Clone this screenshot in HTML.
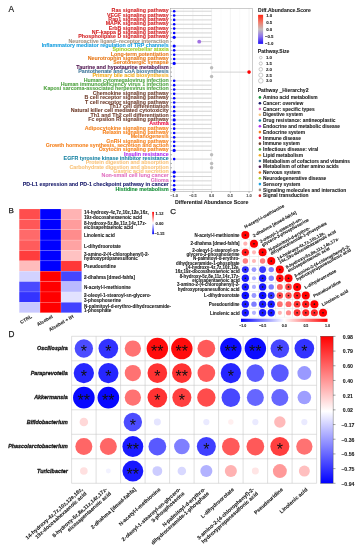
<!DOCTYPE html>
<html><head><meta charset="utf-8"><title>Figure</title>
<style>html,body{margin:0;padding:0;background:#fff;}svg{display:block;}text{font-family:"Liberation Sans",Arial,sans-serif;}</style>
</head><body>
<svg width="360" height="550" viewBox="0 0 360 550">
<rect width="360" height="550" fill="#fff"/>
<text x="8.60" y="11.80" font-size="8.4" fill="#222" text-anchor="start" font-weight="normal" font-style="normal" stroke="#222" stroke-width="0.2">A</text>
<line x1="183.51" y1="8.3" x2="183.51" y2="191.7" stroke="#f4f4f4" stroke-width="0.4"/>
<line x1="202.24" y1="8.3" x2="202.24" y2="191.7" stroke="#f4f4f4" stroke-width="0.4"/>
<line x1="220.96" y1="8.3" x2="220.96" y2="191.7" stroke="#f4f4f4" stroke-width="0.4"/>
<line x1="239.69" y1="8.3" x2="239.69" y2="191.7" stroke="#f4f4f4" stroke-width="0.4"/>
<line x1="174.15" y1="8.3" x2="174.15" y2="191.7" stroke="#e6e6e6" stroke-width="0.5"/>
<line x1="192.88" y1="8.3" x2="192.88" y2="191.7" stroke="#e6e6e6" stroke-width="0.5"/>
<line x1="211.60" y1="8.3" x2="211.60" y2="191.7" stroke="#e6e6e6" stroke-width="0.5"/>
<line x1="230.32" y1="8.3" x2="230.32" y2="191.7" stroke="#e6e6e6" stroke-width="0.5"/>
<line x1="249.05" y1="8.3" x2="249.05" y2="191.7" stroke="#e6e6e6" stroke-width="0.5"/>
<line x1="174.15" y1="11.20" x2="211.60" y2="11.20" stroke="#cecece" stroke-width="0.85"/>
<line x1="174.15" y1="15.55" x2="211.60" y2="15.55" stroke="#cecece" stroke-width="0.85"/>
<line x1="174.15" y1="19.90" x2="211.60" y2="19.90" stroke="#cecece" stroke-width="0.85"/>
<line x1="174.15" y1="24.25" x2="211.60" y2="24.25" stroke="#cecece" stroke-width="0.85"/>
<line x1="174.15" y1="28.60" x2="211.60" y2="28.60" stroke="#cecece" stroke-width="0.85"/>
<line x1="174.15" y1="32.95" x2="211.60" y2="32.95" stroke="#cecece" stroke-width="0.85"/>
<line x1="174.15" y1="37.30" x2="211.60" y2="37.30" stroke="#cecece" stroke-width="0.85"/>
<line x1="199.24" y1="41.65" x2="211.60" y2="41.65" stroke="#cecece" stroke-width="0.85"/>
<line x1="174.15" y1="46.00" x2="211.60" y2="46.00" stroke="#cecece" stroke-width="0.85"/>
<line x1="174.15" y1="50.35" x2="211.60" y2="50.35" stroke="#cecece" stroke-width="0.85"/>
<line x1="174.15" y1="54.70" x2="211.60" y2="54.70" stroke="#cecece" stroke-width="0.85"/>
<line x1="174.15" y1="59.05" x2="211.60" y2="59.05" stroke="#cecece" stroke-width="0.85"/>
<line x1="174.15" y1="63.40" x2="211.60" y2="63.40" stroke="#cecece" stroke-width="0.85"/>
<line x1="211.60" y1="67.75" x2="211.60" y2="67.75" stroke="#cecece" stroke-width="0.85"/>
<line x1="249.05" y1="72.10" x2="211.60" y2="72.10" stroke="#cecece" stroke-width="0.85"/>
<line x1="211.60" y1="76.45" x2="211.60" y2="76.45" stroke="#cecece" stroke-width="0.85"/>
<line x1="174.15" y1="80.80" x2="211.60" y2="80.80" stroke="#cecece" stroke-width="0.85"/>
<line x1="174.15" y1="85.15" x2="211.60" y2="85.15" stroke="#cecece" stroke-width="0.85"/>
<line x1="174.15" y1="89.50" x2="211.60" y2="89.50" stroke="#cecece" stroke-width="0.85"/>
<line x1="174.15" y1="93.85" x2="211.60" y2="93.85" stroke="#cecece" stroke-width="0.85"/>
<line x1="174.15" y1="98.20" x2="211.60" y2="98.20" stroke="#cecece" stroke-width="0.85"/>
<line x1="174.15" y1="102.55" x2="211.60" y2="102.55" stroke="#cecece" stroke-width="0.85"/>
<line x1="174.15" y1="106.90" x2="211.60" y2="106.90" stroke="#cecece" stroke-width="0.85"/>
<line x1="174.15" y1="111.25" x2="211.60" y2="111.25" stroke="#cecece" stroke-width="0.85"/>
<line x1="174.15" y1="115.60" x2="211.60" y2="115.60" stroke="#cecece" stroke-width="0.85"/>
<line x1="174.15" y1="119.95" x2="211.60" y2="119.95" stroke="#cecece" stroke-width="0.85"/>
<line x1="174.15" y1="124.30" x2="211.60" y2="124.30" stroke="#cecece" stroke-width="0.85"/>
<line x1="174.15" y1="128.65" x2="211.60" y2="128.65" stroke="#cecece" stroke-width="0.85"/>
<line x1="174.15" y1="133.00" x2="211.60" y2="133.00" stroke="#cecece" stroke-width="0.85"/>
<line x1="174.15" y1="137.35" x2="211.60" y2="137.35" stroke="#cecece" stroke-width="0.85"/>
<line x1="174.15" y1="141.70" x2="211.60" y2="141.70" stroke="#cecece" stroke-width="0.85"/>
<line x1="174.15" y1="146.05" x2="211.60" y2="146.05" stroke="#cecece" stroke-width="0.85"/>
<line x1="174.15" y1="150.40" x2="211.60" y2="150.40" stroke="#cecece" stroke-width="0.85"/>
<line x1="211.60" y1="154.75" x2="211.60" y2="154.75" stroke="#cecece" stroke-width="0.85"/>
<line x1="174.15" y1="159.10" x2="211.60" y2="159.10" stroke="#cecece" stroke-width="0.85"/>
<line x1="211.60" y1="163.45" x2="211.60" y2="163.45" stroke="#cecece" stroke-width="0.85"/>
<line x1="211.60" y1="167.80" x2="211.60" y2="167.80" stroke="#cecece" stroke-width="0.85"/>
<line x1="174.15" y1="172.15" x2="211.60" y2="172.15" stroke="#cecece" stroke-width="0.85"/>
<line x1="174.15" y1="176.50" x2="211.60" y2="176.50" stroke="#cecece" stroke-width="0.85"/>
<line x1="174.15" y1="180.85" x2="211.60" y2="180.85" stroke="#cecece" stroke-width="0.85"/>
<line x1="174.15" y1="185.20" x2="211.60" y2="185.20" stroke="#cecece" stroke-width="0.85"/>
<line x1="174.15" y1="189.55" x2="211.60" y2="189.55" stroke="#cecece" stroke-width="0.85"/>
<rect x="170.4" y="8.3" width="82.20" height="183.40" fill="none" stroke="#9a9a9a" stroke-width="0.5"/>
<circle cx="174.15" cy="11.20" r="1.32" fill="#0000ff"/>
<line x1="170.7" y1="11.20" x2="171.9" y2="11.20" stroke="#555" stroke-width="0.55"/>
<text x="168.70" y="12.15" font-size="5.3" fill="#d42426" stroke="#d42426" stroke-width="0.08" text-anchor="end" font-weight="bold" font-style="normal" >Ras signaling pathway</text>
<circle cx="174.15" cy="15.55" r="1.32" fill="#0000ff"/>
<line x1="170.7" y1="15.55" x2="171.9" y2="15.55" stroke="#555" stroke-width="0.55"/>
<text x="168.70" y="16.50" font-size="5.3" fill="#d42426" stroke="#d42426" stroke-width="0.08" text-anchor="end" font-weight="bold" font-style="normal" >VEGF signaling pathway</text>
<circle cx="174.15" cy="19.90" r="1.32" fill="#0000ff"/>
<line x1="170.7" y1="19.90" x2="171.9" y2="19.90" stroke="#555" stroke-width="0.55"/>
<text x="168.70" y="20.85" font-size="5.3" fill="#d42426" stroke="#d42426" stroke-width="0.08" text-anchor="end" font-weight="bold" font-style="normal" >Rap1 signaling pathway</text>
<circle cx="174.15" cy="24.25" r="1.32" fill="#0000ff"/>
<line x1="170.7" y1="24.25" x2="171.9" y2="24.25" stroke="#555" stroke-width="0.55"/>
<text x="168.70" y="25.20" font-size="5.3" fill="#d42426" stroke="#d42426" stroke-width="0.08" text-anchor="end" font-weight="bold" font-style="normal" >MAPK signaling pathway</text>
<circle cx="174.15" cy="28.60" r="1.32" fill="#0000ff"/>
<line x1="170.7" y1="28.60" x2="171.9" y2="28.60" stroke="#555" stroke-width="0.55"/>
<text x="168.70" y="29.55" font-size="5.3" fill="#d42426" stroke="#d42426" stroke-width="0.08" text-anchor="end" font-weight="bold" font-style="normal" >ErbB signaling pathway</text>
<circle cx="174.15" cy="32.95" r="1.32" fill="#0000ff"/>
<line x1="170.7" y1="32.95" x2="171.9" y2="32.95" stroke="#555" stroke-width="0.55"/>
<text x="168.70" y="33.90" font-size="5.3" fill="#d42426" stroke="#d42426" stroke-width="0.08" text-anchor="end" font-weight="bold" font-style="normal" >NF-kappa B signaling pathway</text>
<circle cx="174.15" cy="37.30" r="1.6" fill="#0000ff"/>
<line x1="170.7" y1="37.30" x2="171.9" y2="37.30" stroke="#555" stroke-width="0.55"/>
<text x="168.70" y="38.25" font-size="5.3" fill="#d42426" stroke="#d42426" stroke-width="0.08" text-anchor="end" font-weight="bold" font-style="normal" >Phospholipase D signaling pathway</text>
<circle cx="199.24" cy="41.65" r="1.95" fill="#a272e2"/>
<line x1="170.7" y1="41.65" x2="171.9" y2="41.65" stroke="#555" stroke-width="0.55"/>
<text x="168.70" y="42.60" font-size="5.3" fill="#a39484" stroke="#a39484" stroke-width="0.08" text-anchor="end" font-weight="bold" font-style="normal" >Neuroactive ligand−receptor interaction</text>
<circle cx="174.15" cy="46.00" r="1.6" fill="#0000ff"/>
<line x1="170.7" y1="46.00" x2="171.9" y2="46.00" stroke="#555" stroke-width="0.55"/>
<text x="168.70" y="46.95" font-size="5.3" fill="#1aa0e0" stroke="#1aa0e0" stroke-width="0.08" text-anchor="end" font-weight="bold" font-style="normal" >Inflammatory mediator regulation of TRP channels</text>
<circle cx="174.15" cy="50.35" r="1.32" fill="#0000ff"/>
<line x1="170.7" y1="50.35" x2="171.9" y2="50.35" stroke="#555" stroke-width="0.55"/>
<text x="168.70" y="51.30" font-size="5.3" fill="#a2cf2a" stroke="#a2cf2a" stroke-width="0.08" text-anchor="end" font-weight="bold" font-style="normal" >Spinocerebellar ataxia</text>
<circle cx="174.15" cy="54.70" r="1.32" fill="#0000ff"/>
<line x1="170.7" y1="54.70" x2="171.9" y2="54.70" stroke="#555" stroke-width="0.55"/>
<text x="168.70" y="55.65" font-size="5.3" fill="#e8791a" stroke="#e8791a" stroke-width="0.08" text-anchor="end" font-weight="bold" font-style="normal" >Long-term potentiation</text>
<circle cx="174.15" cy="59.05" r="1.32" fill="#0000ff"/>
<line x1="170.7" y1="59.05" x2="171.9" y2="59.05" stroke="#555" stroke-width="0.55"/>
<text x="168.70" y="60.00" font-size="5.3" fill="#e8791a" stroke="#e8791a" stroke-width="0.08" text-anchor="end" font-weight="bold" font-style="normal" >Neurotrophin signaling pathway</text>
<circle cx="174.15" cy="63.40" r="1.6" fill="#0000ff"/>
<line x1="170.7" y1="63.40" x2="171.9" y2="63.40" stroke="#555" stroke-width="0.55"/>
<text x="168.70" y="64.35" font-size="5.3" fill="#e8791a" stroke="#e8791a" stroke-width="0.08" text-anchor="end" font-weight="bold" font-style="normal" >Serotonergic synapse</text>
<circle cx="211.60" cy="67.75" r="1.7" fill="#bcbcbc"/>
<line x1="170.7" y1="67.75" x2="171.9" y2="67.75" stroke="#555" stroke-width="0.55"/>
<text x="168.70" y="68.70" font-size="5.3" fill="#4e124e" stroke="#4e124e" stroke-width="0.08" text-anchor="end" font-weight="bold" font-style="normal" >Taurine and hypotaurine metabolism</text>
<circle cx="249.05" cy="72.10" r="1.8" fill="#ff0000"/>
<line x1="170.7" y1="72.10" x2="171.9" y2="72.10" stroke="#555" stroke-width="0.55"/>
<text x="168.70" y="73.05" font-size="5.3" fill="#41789a" stroke="#41789a" stroke-width="0.08" text-anchor="end" font-weight="bold" font-style="normal" >Pantothenate and CoA biosynthesis</text>
<circle cx="211.60" cy="76.45" r="1.7" fill="#bcbcbc"/>
<line x1="170.7" y1="76.45" x2="171.9" y2="76.45" stroke="#555" stroke-width="0.55"/>
<text x="168.70" y="77.40" font-size="5.3" fill="#f3ae22" stroke="#f3ae22" stroke-width="0.08" text-anchor="end" font-weight="bold" font-style="normal" >Primary bile acid biosynthesis</text>
<circle cx="174.15" cy="80.80" r="1.32" fill="#0000ff"/>
<line x1="170.7" y1="80.80" x2="171.9" y2="80.80" stroke="#555" stroke-width="0.55"/>
<text x="168.70" y="81.75" font-size="5.3" fill="#52a443" stroke="#52a443" stroke-width="0.08" text-anchor="end" font-weight="bold" font-style="normal" >Human cytomegalovirus infection</text>
<circle cx="174.15" cy="85.15" r="1.32" fill="#0000ff"/>
<line x1="170.7" y1="85.15" x2="171.9" y2="85.15" stroke="#555" stroke-width="0.55"/>
<text x="168.70" y="86.10" font-size="5.3" fill="#52a443" stroke="#52a443" stroke-width="0.08" text-anchor="end" font-weight="bold" font-style="normal" >Human immunodeficiency virus 1 infection</text>
<circle cx="174.15" cy="89.50" r="1.32" fill="#0000ff"/>
<line x1="170.7" y1="89.50" x2="171.9" y2="89.50" stroke="#555" stroke-width="0.55"/>
<text x="168.70" y="90.45" font-size="5.3" fill="#52a443" stroke="#52a443" stroke-width="0.08" text-anchor="end" font-weight="bold" font-style="normal" >Kaposi sarcoma-associated herpesvirus infection</text>
<circle cx="174.15" cy="93.85" r="1.32" fill="#0000ff"/>
<line x1="170.7" y1="93.85" x2="171.9" y2="93.85" stroke="#555" stroke-width="0.55"/>
<text x="168.70" y="94.80" font-size="5.3" fill="#72402f" stroke="#72402f" stroke-width="0.08" text-anchor="end" font-weight="bold" font-style="normal" >Chemokine signaling pathway</text>
<circle cx="174.15" cy="98.20" r="1.32" fill="#0000ff"/>
<line x1="170.7" y1="98.20" x2="171.9" y2="98.20" stroke="#555" stroke-width="0.55"/>
<text x="168.70" y="99.15" font-size="5.3" fill="#72402f" stroke="#72402f" stroke-width="0.08" text-anchor="end" font-weight="bold" font-style="normal" >B cell receptor signaling pathway</text>
<circle cx="174.15" cy="102.55" r="1.32" fill="#0000ff"/>
<line x1="170.7" y1="102.55" x2="171.9" y2="102.55" stroke="#555" stroke-width="0.55"/>
<text x="168.70" y="103.50" font-size="5.3" fill="#72402f" stroke="#72402f" stroke-width="0.08" text-anchor="end" font-weight="bold" font-style="normal" >T cell receptor signaling pathway</text>
<circle cx="174.15" cy="106.90" r="1.32" fill="#0000ff"/>
<line x1="170.7" y1="106.90" x2="171.9" y2="106.90" stroke="#555" stroke-width="0.55"/>
<text x="168.70" y="107.85" font-size="5.3" fill="#72402f" stroke="#72402f" stroke-width="0.08" text-anchor="end" font-weight="bold" font-style="normal" >Th17 cell differentiation</text>
<circle cx="174.15" cy="111.25" r="1.32" fill="#0000ff"/>
<line x1="170.7" y1="111.25" x2="171.9" y2="111.25" stroke="#555" stroke-width="0.55"/>
<text x="168.70" y="112.20" font-size="5.3" fill="#72402f" stroke="#72402f" stroke-width="0.08" text-anchor="end" font-weight="bold" font-style="normal" >Natural killer cell mediated cytotoxicity</text>
<circle cx="174.15" cy="115.60" r="1.32" fill="#0000ff"/>
<line x1="170.7" y1="115.60" x2="171.9" y2="115.60" stroke="#555" stroke-width="0.55"/>
<text x="168.70" y="116.55" font-size="5.3" fill="#72402f" stroke="#72402f" stroke-width="0.08" text-anchor="end" font-weight="bold" font-style="normal" >Th1 and Th2 cell differentiation</text>
<circle cx="174.15" cy="119.95" r="1.6" fill="#0000ff"/>
<line x1="170.7" y1="119.95" x2="171.9" y2="119.95" stroke="#555" stroke-width="0.55"/>
<text x="168.70" y="120.90" font-size="5.3" fill="#72402f" stroke="#72402f" stroke-width="0.08" text-anchor="end" font-weight="bold" font-style="normal" >Fc epsilon RI signaling pathway</text>
<circle cx="174.15" cy="124.30" r="1.32" fill="#0000ff"/>
<line x1="170.7" y1="124.30" x2="171.9" y2="124.30" stroke="#555" stroke-width="0.55"/>
<text x="168.70" y="125.25" font-size="5.3" fill="#ec1044" stroke="#ec1044" stroke-width="0.08" text-anchor="end" font-weight="bold" font-style="normal" >Asthma</text>
<circle cx="174.15" cy="128.65" r="1.32" fill="#0000ff"/>
<line x1="170.7" y1="128.65" x2="171.9" y2="128.65" stroke="#555" stroke-width="0.55"/>
<text x="168.70" y="129.60" font-size="5.3" fill="#f5821e" stroke="#f5821e" stroke-width="0.08" text-anchor="end" font-weight="bold" font-style="normal" >Adipocytokine signaling pathway</text>
<circle cx="174.15" cy="133.00" r="1.32" fill="#0000ff"/>
<line x1="170.7" y1="133.00" x2="171.9" y2="133.00" stroke="#555" stroke-width="0.55"/>
<text x="168.70" y="133.95" font-size="5.3" fill="#f5821e" stroke="#f5821e" stroke-width="0.08" text-anchor="end" font-weight="bold" font-style="normal" >Relaxin signaling pathway</text>
<circle cx="174.15" cy="137.35" r="1.32" fill="#0000ff"/>
<line x1="170.7" y1="137.35" x2="171.9" y2="137.35" stroke="#555" stroke-width="0.55"/>
<text x="168.70" y="138.30" font-size="5.3" fill="#f5821e" stroke="#f5821e" stroke-width="0.08" text-anchor="end" font-weight="bold" font-style="normal" >Melanogenesis</text>
<circle cx="174.15" cy="141.70" r="1.32" fill="#0000ff"/>
<line x1="170.7" y1="141.70" x2="171.9" y2="141.70" stroke="#555" stroke-width="0.55"/>
<text x="168.70" y="142.65" font-size="5.3" fill="#f5821e" stroke="#f5821e" stroke-width="0.08" text-anchor="end" font-weight="bold" font-style="normal" >GnRH signaling pathway</text>
<circle cx="174.15" cy="146.05" r="1.32" fill="#0000ff"/>
<line x1="170.7" y1="146.05" x2="171.9" y2="146.05" stroke="#555" stroke-width="0.55"/>
<text x="168.70" y="147.00" font-size="5.3" fill="#f5821e" stroke="#f5821e" stroke-width="0.08" text-anchor="end" font-weight="bold" font-style="normal" >Growth hormone synthesis, secretion and action</text>
<circle cx="174.15" cy="150.40" r="1.6" fill="#0000ff"/>
<line x1="170.7" y1="150.40" x2="171.9" y2="150.40" stroke="#555" stroke-width="0.55"/>
<text x="168.70" y="151.35" font-size="5.3" fill="#f5821e" stroke="#f5821e" stroke-width="0.08" text-anchor="end" font-weight="bold" font-style="normal" >Oxytocin signaling pathway</text>
<circle cx="211.60" cy="154.75" r="1.7" fill="#bcbcbc"/>
<line x1="170.7" y1="154.75" x2="171.9" y2="154.75" stroke="#555" stroke-width="0.55"/>
<text x="168.70" y="155.70" font-size="5.3" fill="#ad2cf0" stroke="#ad2cf0" stroke-width="0.08" text-anchor="end" font-weight="bold" font-style="normal" >Insulin resistance</text>
<circle cx="174.15" cy="159.10" r="1.32" fill="#0000ff"/>
<line x1="170.7" y1="159.10" x2="171.9" y2="159.10" stroke="#555" stroke-width="0.55"/>
<text x="168.70" y="160.05" font-size="5.3" fill="#1b84a4" stroke="#1b84a4" stroke-width="0.08" text-anchor="end" font-weight="bold" font-style="normal" >EGFR tyrosine kinase inhibitor resistance</text>
<circle cx="211.60" cy="163.45" r="1.7" fill="#bcbcbc"/>
<line x1="170.7" y1="163.45" x2="171.9" y2="163.45" stroke="#555" stroke-width="0.55"/>
<text x="168.70" y="164.40" font-size="5.3" fill="#f9c47c" stroke="#f9c47c" stroke-width="0.08" text-anchor="end" font-weight="bold" font-style="normal" >Protein digestion and absorption</text>
<circle cx="211.60" cy="167.80" r="1.7" fill="#bcbcbc"/>
<line x1="170.7" y1="167.80" x2="171.9" y2="167.80" stroke="#555" stroke-width="0.55"/>
<text x="168.70" y="168.75" font-size="5.3" fill="#f9c47c" stroke="#f9c47c" stroke-width="0.08" text-anchor="end" font-weight="bold" font-style="normal" >Carbohydrate digestion and absorption</text>
<circle cx="174.15" cy="172.15" r="1.6" fill="#0000ff"/>
<line x1="170.7" y1="172.15" x2="171.9" y2="172.15" stroke="#555" stroke-width="0.55"/>
<text x="168.70" y="173.10" font-size="5.3" fill="#f9c47c" stroke="#f9c47c" stroke-width="0.08" text-anchor="end" font-weight="bold" font-style="normal" >Gastric acid secretion</text>
<circle cx="174.15" cy="176.50" r="1.32" fill="#0000ff"/>
<line x1="170.7" y1="176.50" x2="171.9" y2="176.50" stroke="#555" stroke-width="0.55"/>
<text x="168.70" y="177.45" font-size="5.3" fill="#e070c0" stroke="#e070c0" stroke-width="0.08" text-anchor="end" font-weight="bold" font-style="normal" >Non-small cell lung cancer</text>
<circle cx="174.15" cy="180.85" r="1.32" fill="#0000ff"/>
<line x1="170.7" y1="180.85" x2="171.9" y2="180.85" stroke="#555" stroke-width="0.55"/>
<text x="168.70" y="181.80" font-size="5.3" fill="#e070c0" stroke="#e070c0" stroke-width="0.08" text-anchor="end" font-weight="bold" font-style="normal" >Glioma</text>
<circle cx="174.15" cy="185.20" r="1.32" fill="#0000ff"/>
<line x1="170.7" y1="185.20" x2="171.9" y2="185.20" stroke="#555" stroke-width="0.55"/>
<text x="168.70" y="186.15" font-size="5.3" fill="#16186a" stroke="#16186a" stroke-width="0.08" text-anchor="end" font-weight="bold" font-style="normal" >PD-L1 expression and PD-1 checkpoint pathway in cancer</text>
<circle cx="174.15" cy="189.55" r="1.6" fill="#0000ff"/>
<line x1="170.7" y1="189.55" x2="171.9" y2="189.55" stroke="#555" stroke-width="0.55"/>
<text x="168.70" y="190.50" font-size="5.3" fill="#168e38" stroke="#168e38" stroke-width="0.08" text-anchor="end" font-weight="bold" font-style="normal" >Histidine metabolism</text>
<line x1="174.15" y1="191.7" x2="174.15" y2="192.89999999999998" stroke="#333" stroke-width="0.4"/>
<text x="174.15" y="197.00" font-size="3.9" fill="#4d4d4d" stroke="#4d4d4d" stroke-width="0.08" text-anchor="middle" font-weight="bold" font-style="normal" >−1.0</text>
<line x1="192.88" y1="191.7" x2="192.88" y2="192.89999999999998" stroke="#333" stroke-width="0.4"/>
<text x="192.88" y="197.00" font-size="3.9" fill="#4d4d4d" stroke="#4d4d4d" stroke-width="0.08" text-anchor="middle" font-weight="bold" font-style="normal" >−0.5</text>
<line x1="211.60" y1="191.7" x2="211.60" y2="192.89999999999998" stroke="#333" stroke-width="0.4"/>
<text x="211.60" y="197.00" font-size="3.9" fill="#4d4d4d" stroke="#4d4d4d" stroke-width="0.08" text-anchor="middle" font-weight="bold" font-style="normal" >0.0</text>
<line x1="230.32" y1="191.7" x2="230.32" y2="192.89999999999998" stroke="#333" stroke-width="0.4"/>
<text x="230.32" y="197.00" font-size="3.9" fill="#4d4d4d" stroke="#4d4d4d" stroke-width="0.08" text-anchor="middle" font-weight="bold" font-style="normal" >0.5</text>
<line x1="249.05" y1="191.7" x2="249.05" y2="192.89999999999998" stroke="#333" stroke-width="0.4"/>
<text x="249.05" y="197.00" font-size="3.9" fill="#4d4d4d" stroke="#4d4d4d" stroke-width="0.08" text-anchor="middle" font-weight="bold" font-style="normal" >1.0</text>
<text x="175.00" y="203.90" font-size="5.25" fill="#1a1a1a" stroke="#1a1a1a" stroke-width="0.08" text-anchor="start" font-weight="bold" font-style="normal" >Differential Abundance Score</text>
<text x="258.10" y="12.30" font-size="5.05" fill="#1a1a1a" stroke="#1a1a1a" stroke-width="0.08" text-anchor="start" font-weight="bold" font-style="normal" >Diff.Abundance.Score</text>
<defs><linearGradient id="gA" x1="0" y1="0" x2="0" y2="1"><stop offset="0" stop-color="#ff2412"/><stop offset="0.25" stop-color="#f27866"/><stop offset="0.5" stop-color="#c6bebe"/><stop offset="0.75" stop-color="#8a70ee"/><stop offset="1" stop-color="#2010f5"/></linearGradient><linearGradient id="gB" x1="0" y1="0" x2="0" y2="1"><stop offset="0" stop-color="#ff0000"/><stop offset="0.5" stop-color="#ffffff"/><stop offset="1" stop-color="#0000ff"/></linearGradient><linearGradient id="gC" x1="0" y1="0" x2="1" y2="0"><stop offset="0" stop-color="#0000ff"/><stop offset="0.5" stop-color="#ffffff"/><stop offset="1" stop-color="#ff0000"/></linearGradient><linearGradient id="gD" x1="0" y1="0" x2="0" y2="1"><stop offset="0" stop-color="#ff0000"/><stop offset="0.51" stop-color="#ffffff"/><stop offset="1" stop-color="#0000ff"/></linearGradient></defs>
<rect x="258.1" y="14.8" width="5" height="29.1" fill="url(#gA)"/>
<text x="269.20" y="17.15" font-size="4.3" fill="#222" stroke="#222" stroke-width="0.08" text-anchor="middle" font-weight="bold" font-style="normal" >1.0</text>
<text x="269.20" y="24.25" font-size="4.3" fill="#222" stroke="#222" stroke-width="0.08" text-anchor="middle" font-weight="bold" font-style="normal" >0.5</text>
<text x="269.20" y="31.05" font-size="4.3" fill="#222" stroke="#222" stroke-width="0.08" text-anchor="middle" font-weight="bold" font-style="normal" >0.0</text>
<text x="269.20" y="37.85" font-size="4.3" fill="#222" stroke="#222" stroke-width="0.08" text-anchor="middle" font-weight="bold" font-style="normal" >−0.5</text>
<text x="269.20" y="44.55" font-size="4.3" fill="#222" stroke="#222" stroke-width="0.08" text-anchor="middle" font-weight="bold" font-style="normal" >−1.0</text>
<text x="257.80" y="53.30" font-size="5.05" fill="#1a1a1a" stroke="#1a1a1a" stroke-width="0.08" text-anchor="start" font-weight="bold" font-style="normal" >Pathway.Size</text>
<circle cx="260.8" cy="57.65" r="1.35" fill="#fff" stroke="#8a8a8a" stroke-width="0.45"/>
<text x="265.90" y="59.20" font-size="4.3" fill="#222" stroke="#222" stroke-width="0.08" text-anchor="start" font-weight="bold" font-style="normal" >1.0</text>
<circle cx="260.8" cy="63.5" r="1.6" fill="#fff" stroke="#8a8a8a" stroke-width="0.45"/>
<text x="265.90" y="65.05" font-size="4.3" fill="#222" stroke="#222" stroke-width="0.08" text-anchor="start" font-weight="bold" font-style="normal" >1.5</text>
<circle cx="260.8" cy="69.3" r="1.8" fill="#fff" stroke="#8a8a8a" stroke-width="0.45"/>
<text x="265.90" y="70.85" font-size="4.3" fill="#222" stroke="#222" stroke-width="0.08" text-anchor="start" font-weight="bold" font-style="normal" >2.0</text>
<circle cx="260.8" cy="75.1" r="2.05" fill="#fff" stroke="#8a8a8a" stroke-width="0.45"/>
<text x="265.90" y="76.65" font-size="4.3" fill="#222" stroke="#222" stroke-width="0.08" text-anchor="start" font-weight="bold" font-style="normal" >2.5</text>
<circle cx="260.8" cy="80.8" r="2.3" fill="#fff" stroke="#8a8a8a" stroke-width="0.45"/>
<text x="265.90" y="82.35" font-size="4.3" fill="#222" stroke="#222" stroke-width="0.08" text-anchor="start" font-weight="bold" font-style="normal" >3.0</text>
<text x="257.70" y="91.70" font-size="5.05" fill="#1a1a1a" stroke="#1a1a1a" stroke-width="0.08" text-anchor="start" font-weight="bold" font-style="normal" >Pathway _Hierarchy2</text>
<circle cx="259.9" cy="97.40" r="1.3" fill="#168e38"/>
<text x="263.10" y="99.05" font-size="4.86" fill="#1a1a1a" stroke="#1a1a1a" stroke-width="0.08" text-anchor="start" font-weight="bold" font-style="normal" >Amino acid metabolism</text>
<circle cx="259.9" cy="103.18" r="1.3" fill="#16186a"/>
<text x="263.10" y="104.83" font-size="4.86" fill="#1a1a1a" stroke="#1a1a1a" stroke-width="0.08" text-anchor="start" font-weight="bold" font-style="normal" >Cancer: overview</text>
<circle cx="259.9" cy="108.96" r="1.3" fill="#e070c0"/>
<text x="263.10" y="110.61" font-size="4.86" fill="#1a1a1a" stroke="#1a1a1a" stroke-width="0.08" text-anchor="start" font-weight="bold" font-style="normal" >Cancer: specific types</text>
<circle cx="259.9" cy="114.74" r="1.3" fill="#f9c47c"/>
<text x="263.10" y="116.39" font-size="4.86" fill="#1a1a1a" stroke="#1a1a1a" stroke-width="0.08" text-anchor="start" font-weight="bold" font-style="normal" >Digestive system</text>
<circle cx="259.9" cy="120.52" r="1.3" fill="#1b84a4"/>
<text x="263.10" y="122.17" font-size="4.86" fill="#1a1a1a" stroke="#1a1a1a" stroke-width="0.08" text-anchor="start" font-weight="bold" font-style="normal" >Drug resistance: antineoplastic</text>
<circle cx="259.9" cy="126.30" r="1.3" fill="#ad2cf0"/>
<text x="263.10" y="127.95" font-size="4.86" fill="#1a1a1a" stroke="#1a1a1a" stroke-width="0.08" text-anchor="start" font-weight="bold" font-style="normal" >Endocrine and metabolic disease</text>
<circle cx="259.9" cy="132.08" r="1.3" fill="#f5821e"/>
<text x="263.10" y="133.73" font-size="4.86" fill="#1a1a1a" stroke="#1a1a1a" stroke-width="0.08" text-anchor="start" font-weight="bold" font-style="normal" >Endocrine system</text>
<circle cx="259.9" cy="137.86" r="1.3" fill="#ec1044"/>
<text x="263.10" y="139.51" font-size="4.86" fill="#1a1a1a" stroke="#1a1a1a" stroke-width="0.08" text-anchor="start" font-weight="bold" font-style="normal" >Immune disease</text>
<circle cx="259.9" cy="143.64" r="1.3" fill="#72402f"/>
<text x="263.10" y="145.29" font-size="4.86" fill="#1a1a1a" stroke="#1a1a1a" stroke-width="0.08" text-anchor="start" font-weight="bold" font-style="normal" >Immune system</text>
<circle cx="259.9" cy="149.42" r="1.3" fill="#52a443"/>
<text x="263.10" y="151.07" font-size="4.86" fill="#1a1a1a" stroke="#1a1a1a" stroke-width="0.08" text-anchor="start" font-weight="bold" font-style="normal" >Infectious disease: viral</text>
<circle cx="259.9" cy="155.20" r="1.3" fill="#f3ae22"/>
<text x="263.10" y="156.85" font-size="4.86" fill="#1a1a1a" stroke="#1a1a1a" stroke-width="0.08" text-anchor="start" font-weight="bold" font-style="normal" >Lipid metabolism</text>
<circle cx="259.9" cy="160.98" r="1.3" fill="#41789a"/>
<text x="263.10" y="162.63" font-size="4.86" fill="#1a1a1a" stroke="#1a1a1a" stroke-width="0.08" text-anchor="start" font-weight="bold" font-style="normal" >Metabolism of cofactors and vitamins</text>
<circle cx="259.9" cy="166.76" r="1.3" fill="#4e124e"/>
<text x="263.10" y="168.41" font-size="4.86" fill="#1a1a1a" stroke="#1a1a1a" stroke-width="0.08" text-anchor="start" font-weight="bold" font-style="normal" >Metabolism of other amino acids</text>
<circle cx="259.9" cy="172.54" r="1.3" fill="#e8791a"/>
<text x="263.10" y="174.19" font-size="4.86" fill="#1a1a1a" stroke="#1a1a1a" stroke-width="0.08" text-anchor="start" font-weight="bold" font-style="normal" >Nervous system</text>
<circle cx="259.9" cy="178.32" r="1.3" fill="#a2cf2a"/>
<text x="263.10" y="179.97" font-size="4.86" fill="#1a1a1a" stroke="#1a1a1a" stroke-width="0.08" text-anchor="start" font-weight="bold" font-style="normal" >Neurodegenerative disease</text>
<circle cx="259.9" cy="184.10" r="1.3" fill="#1aa0e0"/>
<text x="263.10" y="185.75" font-size="4.86" fill="#1a1a1a" stroke="#1a1a1a" stroke-width="0.08" text-anchor="start" font-weight="bold" font-style="normal" >Sensory system</text>
<circle cx="259.9" cy="189.88" r="1.3" fill="#a39484"/>
<text x="263.10" y="191.53" font-size="4.86" fill="#1a1a1a" stroke="#1a1a1a" stroke-width="0.08" text-anchor="start" font-weight="bold" font-style="normal" >Signaling molecules and interaction</text>
<circle cx="259.9" cy="195.66" r="1.3" fill="#d42426"/>
<text x="263.10" y="197.31" font-size="4.86" fill="#1a1a1a" stroke="#1a1a1a" stroke-width="0.08" text-anchor="start" font-weight="bold" font-style="normal" >Signal transduction</text>
<text x="8.60" y="212.60" font-size="8.0" fill="#222" text-anchor="start" font-weight="normal" font-style="normal" stroke="#222" stroke-width="0.25">B</text>
<rect x="19.2" y="209.00" width="20.90" height="10.37" fill="#ff4d4d" stroke="#ffffff" stroke-opacity="0.25" stroke-width="0.5"/>
<rect x="40.1" y="209.00" width="20.90" height="10.37" fill="#0000ff" stroke="#ffffff" stroke-opacity="0.25" stroke-width="0.5"/>
<rect x="61.0" y="209.00" width="20.70" height="10.37" fill="#ffb3b3" stroke="#ffffff" stroke-opacity="0.25" stroke-width="0.5"/>
<rect x="19.2" y="219.37" width="20.90" height="10.37" fill="#ff5757" stroke="#ffffff" stroke-opacity="0.25" stroke-width="0.5"/>
<rect x="40.1" y="219.37" width="20.90" height="10.37" fill="#0000ff" stroke="#ffffff" stroke-opacity="0.25" stroke-width="0.5"/>
<rect x="61.0" y="219.37" width="20.70" height="10.37" fill="#ff9c9c" stroke="#ffffff" stroke-opacity="0.25" stroke-width="0.5"/>
<rect x="19.2" y="229.74" width="20.90" height="10.37" fill="#ff6a6a" stroke="#ffffff" stroke-opacity="0.25" stroke-width="0.5"/>
<rect x="40.1" y="229.74" width="20.90" height="10.37" fill="#0000ff" stroke="#ffffff" stroke-opacity="0.25" stroke-width="0.5"/>
<rect x="61.0" y="229.74" width="20.70" height="10.37" fill="#ff8c8c" stroke="#ffffff" stroke-opacity="0.25" stroke-width="0.5"/>
<rect x="19.2" y="240.11" width="20.90" height="10.37" fill="#ff5c5c" stroke="#ffffff" stroke-opacity="0.25" stroke-width="0.5"/>
<rect x="40.1" y="240.11" width="20.90" height="10.37" fill="#0000ff" stroke="#ffffff" stroke-opacity="0.25" stroke-width="0.5"/>
<rect x="61.0" y="240.11" width="20.70" height="10.37" fill="#ffa3a3" stroke="#ffffff" stroke-opacity="0.25" stroke-width="0.5"/>
<rect x="19.2" y="250.48" width="20.90" height="10.37" fill="#ff3d3d" stroke="#ffffff" stroke-opacity="0.25" stroke-width="0.5"/>
<rect x="40.1" y="250.48" width="20.90" height="10.37" fill="#0000ff" stroke="#ffffff" stroke-opacity="0.25" stroke-width="0.5"/>
<rect x="61.0" y="250.48" width="20.70" height="10.37" fill="#ffc2c2" stroke="#ffffff" stroke-opacity="0.25" stroke-width="0.5"/>
<rect x="19.2" y="260.85" width="20.90" height="10.37" fill="#ffbcbc" stroke="#ffffff" stroke-opacity="0.25" stroke-width="0.5"/>
<rect x="40.1" y="260.85" width="20.90" height="10.37" fill="#0000ff" stroke="#ffffff" stroke-opacity="0.25" stroke-width="0.5"/>
<rect x="61.0" y="260.85" width="20.70" height="10.37" fill="#ff3838" stroke="#ffffff" stroke-opacity="0.25" stroke-width="0.5"/>
<rect x="19.2" y="271.22" width="20.90" height="10.37" fill="#d2d2ff" stroke="#ffffff" stroke-opacity="0.25" stroke-width="0.5"/>
<rect x="40.1" y="271.22" width="20.90" height="10.37" fill="#ff0000" stroke="#ffffff" stroke-opacity="0.25" stroke-width="0.5"/>
<rect x="61.0" y="271.22" width="20.70" height="10.37" fill="#4646ff" stroke="#ffffff" stroke-opacity="0.25" stroke-width="0.5"/>
<rect x="19.2" y="281.59" width="20.90" height="10.37" fill="#4a4aff" stroke="#ffffff" stroke-opacity="0.25" stroke-width="0.5"/>
<rect x="40.1" y="281.59" width="20.90" height="10.37" fill="#ff0000" stroke="#ffffff" stroke-opacity="0.25" stroke-width="0.5"/>
<rect x="61.0" y="281.59" width="20.70" height="10.37" fill="#babaff" stroke="#ffffff" stroke-opacity="0.25" stroke-width="0.5"/>
<rect x="19.2" y="291.96" width="20.90" height="10.37" fill="#3434ff" stroke="#ffffff" stroke-opacity="0.25" stroke-width="0.5"/>
<rect x="40.1" y="291.96" width="20.90" height="10.37" fill="#ff0000" stroke="#ffffff" stroke-opacity="0.25" stroke-width="0.5"/>
<rect x="61.0" y="291.96" width="20.70" height="10.37" fill="#e2e2ff" stroke="#ffffff" stroke-opacity="0.25" stroke-width="0.5"/>
<rect x="19.2" y="302.33" width="20.90" height="10.37" fill="#c9c9ff" stroke="#ffffff" stroke-opacity="0.25" stroke-width="0.5"/>
<rect x="40.1" y="302.33" width="20.90" height="10.37" fill="#ff0000" stroke="#ffffff" stroke-opacity="0.25" stroke-width="0.5"/>
<rect x="61.0" y="302.33" width="20.70" height="10.37" fill="#4242ff" stroke="#ffffff" stroke-opacity="0.25" stroke-width="0.5"/>
<text x="84.00" y="214.19" font-size="4.62" fill="#1a1a1a" stroke="#1a1a1a" stroke-width="0.08" text-anchor="start" font-weight="bold" font-style="normal" >14-hydroxy-4z,7z,10z,12e,16z,</text>
<text x="84.00" y="218.99" font-size="4.62" fill="#1a1a1a" stroke="#1a1a1a" stroke-width="0.08" text-anchor="start" font-weight="bold" font-style="normal" >19z-docosahexaenoic acid</text>
<text x="84.00" y="224.56" font-size="4.62" fill="#1a1a1a" stroke="#1a1a1a" stroke-width="0.08" text-anchor="start" font-weight="bold" font-style="normal" >8-hydroxy-5z,8e,11z,14z,17z-</text>
<text x="84.00" y="229.36" font-size="4.62" fill="#1a1a1a" stroke="#1a1a1a" stroke-width="0.08" text-anchor="start" font-weight="bold" font-style="normal" >eicosapentaenoic acid</text>
<text x="84.00" y="237.33" font-size="4.62" fill="#1a1a1a" stroke="#1a1a1a" stroke-width="0.08" text-anchor="start" font-weight="bold" font-style="normal" >Linolenic acid</text>
<text x="84.00" y="247.69" font-size="4.62" fill="#1a1a1a" stroke="#1a1a1a" stroke-width="0.08" text-anchor="start" font-weight="bold" font-style="normal" >L-dihydroorotate</text>
<text x="84.00" y="255.66" font-size="4.62" fill="#1a1a1a" stroke="#1a1a1a" stroke-width="0.08" text-anchor="start" font-weight="bold" font-style="normal" >3-amino-2-(4-chlorophenyl)-2-</text>
<text x="84.00" y="260.46" font-size="4.62" fill="#1a1a1a" stroke="#1a1a1a" stroke-width="0.08" text-anchor="start" font-weight="bold" font-style="normal" >hydroxypropanesulfonic</text>
<text x="84.00" y="268.43" font-size="4.62" fill="#1a1a1a" stroke="#1a1a1a" stroke-width="0.08" text-anchor="start" font-weight="bold" font-style="normal" >Pseudouridine</text>
<text x="84.00" y="278.80" font-size="4.62" fill="#1a1a1a" stroke="#1a1a1a" stroke-width="0.08" text-anchor="start" font-weight="bold" font-style="normal" >2-dhahma [dmed-fahfa]</text>
<text x="84.00" y="289.17" font-size="4.62" fill="#1a1a1a" stroke="#1a1a1a" stroke-width="0.08" text-anchor="start" font-weight="bold" font-style="normal" >N-acetyl-l-methionine</text>
<text x="84.00" y="297.14" font-size="4.62" fill="#1a1a1a" stroke="#1a1a1a" stroke-width="0.08" text-anchor="start" font-weight="bold" font-style="normal" >2-oleoyl-1-stearoyl-sn-glycero-</text>
<text x="84.00" y="301.94" font-size="4.62" fill="#1a1a1a" stroke="#1a1a1a" stroke-width="0.08" text-anchor="start" font-weight="bold" font-style="normal" >3-phosphoserine</text>
<text x="84.00" y="307.51" font-size="4.62" fill="#1a1a1a" stroke="#1a1a1a" stroke-width="0.08" text-anchor="start" font-weight="bold" font-style="normal" >N-palmitoyl-d-erythro-dihydroceramide-</text>
<text x="84.00" y="312.31" font-size="4.62" fill="#1a1a1a" stroke="#1a1a1a" stroke-width="0.08" text-anchor="start" font-weight="bold" font-style="normal" >1-phosphate</text>
<text x="32.25" y="317.6" font-size="4.75" font-weight="bold" fill="#1a1a1a" stroke="#1a1a1a" stroke-width="0.08" text-anchor="end" transform="rotate(-30 32.25 317.6)">CTRL</text>
<text x="53.15" y="317.6" font-size="4.75" font-weight="bold" fill="#1a1a1a" stroke="#1a1a1a" stroke-width="0.08" text-anchor="end" transform="rotate(-30 53.15 317.6)">Alcohol</text>
<text x="73.95" y="317.6" font-size="4.75" font-weight="bold" fill="#1a1a1a" stroke="#1a1a1a" stroke-width="0.08" text-anchor="end" transform="rotate(-30 73.95 317.6)">Alcohol + IH</text>
<rect x="152.2" y="211.9" width="1.8" height="22.3" fill="url(#gB)"/>
<text x="159.50" y="214.90" font-size="4.0" fill="#1a1a1a" stroke="#1a1a1a" stroke-width="0.08" text-anchor="middle" font-weight="bold" font-style="normal" >1.12</text>
<text x="159.50" y="224.90" font-size="4.0" fill="#1a1a1a" stroke="#1a1a1a" stroke-width="0.08" text-anchor="middle" font-weight="bold" font-style="normal" >0.00</text>
<text x="159.50" y="235.30" font-size="4.0" fill="#1a1a1a" stroke="#1a1a1a" stroke-width="0.08" text-anchor="middle" font-weight="bold" font-style="normal" >−1.15</text>
<text x="170.30" y="213.70" font-size="8.0" fill="#222" text-anchor="start" font-weight="normal" font-style="normal" stroke="#222" stroke-width="0.25">C</text>
<rect x="241.03" y="230.78" width="8.63" height="8.63" fill="none" stroke="#e4e4e4" stroke-width="0.35"/>
<rect x="241.03" y="239.41" width="8.63" height="8.63" fill="none" stroke="#e4e4e4" stroke-width="0.35"/>
<rect x="249.66" y="239.41" width="8.63" height="8.63" fill="none" stroke="#e4e4e4" stroke-width="0.35"/>
<rect x="241.03" y="248.04" width="8.63" height="8.63" fill="none" stroke="#e4e4e4" stroke-width="0.35"/>
<rect x="249.66" y="248.04" width="8.63" height="8.63" fill="none" stroke="#e4e4e4" stroke-width="0.35"/>
<rect x="258.30" y="248.04" width="8.63" height="8.63" fill="none" stroke="#e4e4e4" stroke-width="0.35"/>
<rect x="241.03" y="256.68" width="8.63" height="8.63" fill="none" stroke="#e4e4e4" stroke-width="0.35"/>
<rect x="249.66" y="256.68" width="8.63" height="8.63" fill="none" stroke="#e4e4e4" stroke-width="0.35"/>
<rect x="258.30" y="256.68" width="8.63" height="8.63" fill="none" stroke="#e4e4e4" stroke-width="0.35"/>
<rect x="266.93" y="256.68" width="8.63" height="8.63" fill="none" stroke="#e4e4e4" stroke-width="0.35"/>
<rect x="241.03" y="265.31" width="8.63" height="8.63" fill="none" stroke="#e4e4e4" stroke-width="0.35"/>
<rect x="249.66" y="265.31" width="8.63" height="8.63" fill="none" stroke="#e4e4e4" stroke-width="0.35"/>
<rect x="258.30" y="265.31" width="8.63" height="8.63" fill="none" stroke="#e4e4e4" stroke-width="0.35"/>
<rect x="266.93" y="265.31" width="8.63" height="8.63" fill="none" stroke="#e4e4e4" stroke-width="0.35"/>
<rect x="275.56" y="265.31" width="8.63" height="8.63" fill="none" stroke="#e4e4e4" stroke-width="0.35"/>
<rect x="241.03" y="273.94" width="8.63" height="8.63" fill="none" stroke="#e4e4e4" stroke-width="0.35"/>
<rect x="249.66" y="273.94" width="8.63" height="8.63" fill="none" stroke="#e4e4e4" stroke-width="0.35"/>
<rect x="258.30" y="273.94" width="8.63" height="8.63" fill="none" stroke="#e4e4e4" stroke-width="0.35"/>
<rect x="266.93" y="273.94" width="8.63" height="8.63" fill="none" stroke="#e4e4e4" stroke-width="0.35"/>
<rect x="275.56" y="273.94" width="8.63" height="8.63" fill="none" stroke="#e4e4e4" stroke-width="0.35"/>
<rect x="284.19" y="273.94" width="8.63" height="8.63" fill="none" stroke="#e4e4e4" stroke-width="0.35"/>
<rect x="241.03" y="282.56" width="8.63" height="8.63" fill="none" stroke="#e4e4e4" stroke-width="0.35"/>
<rect x="249.66" y="282.56" width="8.63" height="8.63" fill="none" stroke="#e4e4e4" stroke-width="0.35"/>
<rect x="258.30" y="282.56" width="8.63" height="8.63" fill="none" stroke="#e4e4e4" stroke-width="0.35"/>
<rect x="266.93" y="282.56" width="8.63" height="8.63" fill="none" stroke="#e4e4e4" stroke-width="0.35"/>
<rect x="275.56" y="282.56" width="8.63" height="8.63" fill="none" stroke="#e4e4e4" stroke-width="0.35"/>
<rect x="284.19" y="282.56" width="8.63" height="8.63" fill="none" stroke="#e4e4e4" stroke-width="0.35"/>
<rect x="292.81" y="282.56" width="8.63" height="8.63" fill="none" stroke="#e4e4e4" stroke-width="0.35"/>
<rect x="241.03" y="291.19" width="8.63" height="8.63" fill="none" stroke="#e4e4e4" stroke-width="0.35"/>
<rect x="249.66" y="291.19" width="8.63" height="8.63" fill="none" stroke="#e4e4e4" stroke-width="0.35"/>
<rect x="258.30" y="291.19" width="8.63" height="8.63" fill="none" stroke="#e4e4e4" stroke-width="0.35"/>
<rect x="266.93" y="291.19" width="8.63" height="8.63" fill="none" stroke="#e4e4e4" stroke-width="0.35"/>
<rect x="275.56" y="291.19" width="8.63" height="8.63" fill="none" stroke="#e4e4e4" stroke-width="0.35"/>
<rect x="284.19" y="291.19" width="8.63" height="8.63" fill="none" stroke="#e4e4e4" stroke-width="0.35"/>
<rect x="292.81" y="291.19" width="8.63" height="8.63" fill="none" stroke="#e4e4e4" stroke-width="0.35"/>
<rect x="301.44" y="291.19" width="8.63" height="8.63" fill="none" stroke="#e4e4e4" stroke-width="0.35"/>
<rect x="241.03" y="299.82" width="8.63" height="8.63" fill="none" stroke="#e4e4e4" stroke-width="0.35"/>
<rect x="249.66" y="299.82" width="8.63" height="8.63" fill="none" stroke="#e4e4e4" stroke-width="0.35"/>
<rect x="258.30" y="299.82" width="8.63" height="8.63" fill="none" stroke="#e4e4e4" stroke-width="0.35"/>
<rect x="266.93" y="299.82" width="8.63" height="8.63" fill="none" stroke="#e4e4e4" stroke-width="0.35"/>
<rect x="275.56" y="299.82" width="8.63" height="8.63" fill="none" stroke="#e4e4e4" stroke-width="0.35"/>
<rect x="284.19" y="299.82" width="8.63" height="8.63" fill="none" stroke="#e4e4e4" stroke-width="0.35"/>
<rect x="292.81" y="299.82" width="8.63" height="8.63" fill="none" stroke="#e4e4e4" stroke-width="0.35"/>
<rect x="301.44" y="299.82" width="8.63" height="8.63" fill="none" stroke="#e4e4e4" stroke-width="0.35"/>
<rect x="310.07" y="299.82" width="8.63" height="8.63" fill="none" stroke="#e4e4e4" stroke-width="0.35"/>
<rect x="241.03" y="308.45" width="8.63" height="8.63" fill="none" stroke="#e4e4e4" stroke-width="0.35"/>
<rect x="249.66" y="308.45" width="8.63" height="8.63" fill="none" stroke="#e4e4e4" stroke-width="0.35"/>
<rect x="258.30" y="308.45" width="8.63" height="8.63" fill="none" stroke="#e4e4e4" stroke-width="0.35"/>
<rect x="266.93" y="308.45" width="8.63" height="8.63" fill="none" stroke="#e4e4e4" stroke-width="0.35"/>
<rect x="275.56" y="308.45" width="8.63" height="8.63" fill="none" stroke="#e4e4e4" stroke-width="0.35"/>
<rect x="284.19" y="308.45" width="8.63" height="8.63" fill="none" stroke="#e4e4e4" stroke-width="0.35"/>
<rect x="292.81" y="308.45" width="8.63" height="8.63" fill="none" stroke="#e4e4e4" stroke-width="0.35"/>
<rect x="301.44" y="308.45" width="8.63" height="8.63" fill="none" stroke="#e4e4e4" stroke-width="0.35"/>
<rect x="310.07" y="308.45" width="8.63" height="8.63" fill="none" stroke="#e4e4e4" stroke-width="0.35"/>
<rect x="318.70" y="308.45" width="8.63" height="8.63" fill="none" stroke="#e4e4e4" stroke-width="0.35"/>
<circle cx="245.35" cy="235.10" r="4.00" fill="#ff0000"/>
<circle cx="245.35" cy="235.10" r="0.85" fill="#1a1a1a"/>
<circle cx="245.35" cy="243.73" r="2.11" fill="#ffb2b2"/>
<circle cx="253.98" cy="243.73" r="4.00" fill="#ff0000"/>
<circle cx="253.98" cy="243.73" r="0.85" fill="#1a1a1a"/>
<circle cx="245.35" cy="252.36" r="3.65" fill="#ff1919"/>
<circle cx="245.35" cy="252.36" r="0.85" fill="#1a1a1a"/>
<circle cx="253.98" cy="252.36" r="2.04" fill="#ffb7b7"/>
<circle cx="262.61" cy="252.36" r="4.00" fill="#ff0000"/>
<circle cx="262.61" cy="252.36" r="0.85" fill="#1a1a1a"/>
<circle cx="245.35" cy="260.99" r="2.72" fill="#ff7f7f"/>
<circle cx="253.98" cy="260.99" r="2.04" fill="#ffb7b7"/>
<circle cx="262.61" cy="260.99" r="2.72" fill="#ff7f7f"/>
<circle cx="271.24" cy="260.99" r="4.00" fill="#ff0000"/>
<circle cx="271.24" cy="260.99" r="0.85" fill="#1a1a1a"/>
<circle cx="245.35" cy="269.62" r="3.49" fill="#2d2dff"/>
<circle cx="245.35" cy="269.62" r="0.85" fill="#1a1a1a"/>
<circle cx="253.98" cy="269.62" r="2.43" fill="#9999ff"/>
<circle cx="262.61" cy="269.62" r="3.40" fill="#3838ff"/>
<circle cx="271.24" cy="269.62" r="2.72" fill="#7f7fff"/>
<circle cx="279.87" cy="269.62" r="4.00" fill="#ff0000"/>
<circle cx="279.87" cy="269.62" r="0.85" fill="#1a1a1a"/>
<circle cx="245.35" cy="278.25" r="3.65" fill="#1919ff"/>
<circle cx="245.35" cy="278.25" r="0.85" fill="#1a1a1a"/>
<circle cx="253.98" cy="278.25" r="2.11" fill="#b2b2ff"/>
<circle cx="262.61" cy="278.25" r="3.65" fill="#1919ff"/>
<circle cx="262.61" cy="278.25" r="0.85" fill="#1a1a1a"/>
<circle cx="271.24" cy="278.25" r="2.72" fill="#7f7fff"/>
<circle cx="279.87" cy="278.25" r="3.75" fill="#ff0c0c"/>
<circle cx="279.87" cy="278.25" r="0.85" fill="#1a1a1a"/>
<circle cx="288.50" cy="278.25" r="4.00" fill="#ff0000"/>
<circle cx="288.50" cy="278.25" r="0.85" fill="#1a1a1a"/>
<circle cx="245.35" cy="286.88" r="3.65" fill="#1919ff"/>
<circle cx="245.35" cy="286.88" r="0.85" fill="#1a1a1a"/>
<circle cx="253.98" cy="286.88" r="2.11" fill="#b2b2ff"/>
<circle cx="262.61" cy="286.88" r="3.65" fill="#1919ff"/>
<circle cx="262.61" cy="286.88" r="0.85" fill="#1a1a1a"/>
<circle cx="271.24" cy="286.88" r="2.72" fill="#7f7fff"/>
<circle cx="279.87" cy="286.88" r="2.98" fill="#ff6666"/>
<circle cx="288.50" cy="286.88" r="3.33" fill="#ff3f3f"/>
<circle cx="288.50" cy="286.88" r="0.85" fill="#1a1a1a"/>
<circle cx="297.13" cy="286.88" r="4.00" fill="#ff0000"/>
<circle cx="297.13" cy="286.88" r="0.85" fill="#1a1a1a"/>
<circle cx="245.35" cy="295.51" r="3.75" fill="#0c0cff"/>
<circle cx="245.35" cy="295.51" r="0.85" fill="#1a1a1a"/>
<circle cx="253.98" cy="295.51" r="2.43" fill="#9999ff"/>
<circle cx="262.61" cy="295.51" r="3.75" fill="#0c0cff"/>
<circle cx="262.61" cy="295.51" r="0.85" fill="#1a1a1a"/>
<circle cx="271.24" cy="295.51" r="3.44" fill="#3232ff"/>
<circle cx="271.24" cy="295.51" r="0.85" fill="#1a1a1a"/>
<circle cx="279.87" cy="295.51" r="3.22" fill="#ff4c4c"/>
<circle cx="279.87" cy="295.51" r="0.85" fill="#1a1a1a"/>
<circle cx="288.50" cy="295.51" r="3.22" fill="#ff4c4c"/>
<circle cx="288.50" cy="295.51" r="0.85" fill="#1a1a1a"/>
<circle cx="297.13" cy="295.51" r="3.65" fill="#ff1919"/>
<circle cx="297.13" cy="295.51" r="0.85" fill="#1a1a1a"/>
<circle cx="305.76" cy="295.51" r="4.00" fill="#ff0000"/>
<circle cx="305.76" cy="295.51" r="0.85" fill="#1a1a1a"/>
<circle cx="245.35" cy="304.14" r="3.65" fill="#1919ff"/>
<circle cx="245.35" cy="304.14" r="0.85" fill="#1a1a1a"/>
<circle cx="253.98" cy="304.14" r="2.72" fill="#7f7fff"/>
<circle cx="262.61" cy="304.14" r="3.65" fill="#1919ff"/>
<circle cx="262.61" cy="304.14" r="0.85" fill="#1a1a1a"/>
<circle cx="271.24" cy="304.14" r="3.65" fill="#1919ff"/>
<circle cx="271.24" cy="304.14" r="0.85" fill="#1a1a1a"/>
<circle cx="279.87" cy="304.14" r="2.86" fill="#ff7272"/>
<circle cx="288.50" cy="304.14" r="2.98" fill="#ff6666"/>
<circle cx="297.13" cy="304.14" r="3.44" fill="#ff3232"/>
<circle cx="297.13" cy="304.14" r="0.85" fill="#1a1a1a"/>
<circle cx="305.76" cy="304.14" r="3.65" fill="#ff1919"/>
<circle cx="305.76" cy="304.14" r="0.85" fill="#1a1a1a"/>
<circle cx="314.39" cy="304.14" r="4.00" fill="#ff0000"/>
<circle cx="314.39" cy="304.14" r="0.85" fill="#1a1a1a"/>
<circle cx="245.35" cy="312.77" r="3.65" fill="#1919ff"/>
<circle cx="245.35" cy="312.77" r="0.85" fill="#1a1a1a"/>
<circle cx="253.98" cy="312.77" r="2.11" fill="#b2b2ff"/>
<circle cx="262.61" cy="312.77" r="3.65" fill="#1919ff"/>
<circle cx="262.61" cy="312.77" r="0.85" fill="#1a1a1a"/>
<circle cx="271.24" cy="312.77" r="3.65" fill="#1919ff"/>
<circle cx="271.24" cy="312.77" r="0.85" fill="#1a1a1a"/>
<circle cx="279.87" cy="312.77" r="2.11" fill="#ffb2b2"/>
<circle cx="288.50" cy="312.77" r="2.58" fill="#ff8c8c"/>
<circle cx="297.13" cy="312.77" r="3.44" fill="#ff3232"/>
<circle cx="297.13" cy="312.77" r="0.85" fill="#1a1a1a"/>
<circle cx="305.76" cy="312.77" r="3.55" fill="#ff2626"/>
<circle cx="305.76" cy="312.77" r="0.85" fill="#1a1a1a"/>
<circle cx="314.39" cy="312.77" r="3.55" fill="#ff2626"/>
<circle cx="314.39" cy="312.77" r="0.85" fill="#1a1a1a"/>
<circle cx="323.02" cy="312.77" r="4.00" fill="#ff0000"/>
<circle cx="323.02" cy="312.77" r="0.85" fill="#1a1a1a"/>
<text x="239.60" y="236.85" font-size="4.45" fill="#1a1a1a" stroke="#1a1a1a" stroke-width="0.08" text-anchor="end" font-weight="bold" font-style="normal" >N-acetyl-l-methionine</text>
<text x="245.20" y="228.59" font-size="4.45" font-weight="bold" fill="#1a1a1a" stroke="#1a1a1a" stroke-width="0.08" transform="rotate(-29 245.20 228.59)">N-acetyl-l-methionine</text>
<text x="239.60" y="245.48" font-size="4.45" fill="#1a1a1a" stroke="#1a1a1a" stroke-width="0.08" text-anchor="end" font-weight="bold" font-style="normal" >2-dhahma [dmed-fahfa]</text>
<text x="253.83" y="237.22" font-size="4.45" font-weight="bold" fill="#1a1a1a" stroke="#1a1a1a" stroke-width="0.08" transform="rotate(-29 253.83 237.22)">2-dhahma [dmed-fahfa]</text>
<text x="239.60" y="251.71" font-size="4.45" fill="#1a1a1a" stroke="#1a1a1a" stroke-width="0.08" text-anchor="end" font-weight="bold" font-style="normal" >2-oleoyl-1-stearoyl-sn-</text>
<text x="239.60" y="256.11" font-size="4.45" fill="#1a1a1a" stroke="#1a1a1a" stroke-width="0.08" text-anchor="end" font-weight="bold" font-style="normal" >glycero-3-phosphoserine</text>
<text x="262.46" y="242.54" font-size="4.45" font-weight="bold" fill="#1a1a1a" stroke="#1a1a1a" stroke-width="0.08" transform="rotate(-29 262.46 245.84)">2-oleoyl-1-stearoyl-sn-</text>
<text x="262.46" y="246.54" font-size="4.45" font-weight="bold" fill="#1a1a1a" stroke="#1a1a1a" stroke-width="0.08" transform="rotate(-29 262.46 245.84)">glycero-3-phosphoserine</text>
<text x="239.60" y="260.34" font-size="4.45" fill="#1a1a1a" stroke="#1a1a1a" stroke-width="0.08" text-anchor="end" font-weight="bold" font-style="normal" >N-palmitoyl-d-erythro-</text>
<text x="239.60" y="264.74" font-size="4.45" fill="#1a1a1a" stroke="#1a1a1a" stroke-width="0.08" text-anchor="end" font-weight="bold" font-style="normal" >dihydroceramide-1-phosphate</text>
<text x="271.09" y="251.18" font-size="4.45" font-weight="bold" fill="#1a1a1a" stroke="#1a1a1a" stroke-width="0.08" transform="rotate(-29 271.09 254.48)">N-palmitoyl-d-erythro-</text>
<text x="271.09" y="255.18" font-size="4.45" font-weight="bold" fill="#1a1a1a" stroke="#1a1a1a" stroke-width="0.08" transform="rotate(-29 271.09 254.48)">dihydroceramide-1-phosphate</text>
<text x="239.60" y="268.97" font-size="4.45" fill="#1a1a1a" stroke="#1a1a1a" stroke-width="0.08" text-anchor="end" font-weight="bold" font-style="normal" >14-hydroxy-4z,7z,10z,12e,</text>
<text x="239.60" y="273.37" font-size="4.45" fill="#1a1a1a" stroke="#1a1a1a" stroke-width="0.08" text-anchor="end" font-weight="bold" font-style="normal" >16z,19z-docosahexaenoic acid</text>
<text x="279.72" y="259.81" font-size="4.45" font-weight="bold" fill="#1a1a1a" stroke="#1a1a1a" stroke-width="0.08" transform="rotate(-29 279.72 263.11)">14-hydroxy-4z,7z,10z,12e,</text>
<text x="279.72" y="263.81" font-size="4.45" font-weight="bold" fill="#1a1a1a" stroke="#1a1a1a" stroke-width="0.08" transform="rotate(-29 279.72 263.11)">16z,19z-docosahexaenoic acid</text>
<text x="239.60" y="277.60" font-size="4.45" fill="#1a1a1a" stroke="#1a1a1a" stroke-width="0.08" text-anchor="end" font-weight="bold" font-style="normal" >8-hydroxy-5z,8e,11z,14z,17z-</text>
<text x="239.60" y="282.00" font-size="4.45" fill="#1a1a1a" stroke="#1a1a1a" stroke-width="0.08" text-anchor="end" font-weight="bold" font-style="normal" >eicosapentaenoic acid</text>
<text x="288.35" y="268.44" font-size="4.45" font-weight="bold" fill="#1a1a1a" stroke="#1a1a1a" stroke-width="0.08" transform="rotate(-29 288.35 271.74)">8-hydroxy-5z,8e,11z,14z,17z-</text>
<text x="288.35" y="272.44" font-size="4.45" font-weight="bold" fill="#1a1a1a" stroke="#1a1a1a" stroke-width="0.08" transform="rotate(-29 288.35 271.74)">eicosapentaenoic acid</text>
<text x="239.60" y="286.23" font-size="4.45" fill="#1a1a1a" stroke="#1a1a1a" stroke-width="0.08" text-anchor="end" font-weight="bold" font-style="normal" >3-amino-2-(4-chlorophenyl)-2-</text>
<text x="239.60" y="290.63" font-size="4.45" fill="#1a1a1a" stroke="#1a1a1a" stroke-width="0.08" text-anchor="end" font-weight="bold" font-style="normal" >hydroxypropanesulfonic acid</text>
<text x="296.98" y="277.06" font-size="4.45" font-weight="bold" fill="#1a1a1a" stroke="#1a1a1a" stroke-width="0.08" transform="rotate(-29 296.98 280.37)">3-amino-2-(4-chlorophenyl)-2-</text>
<text x="296.98" y="281.06" font-size="4.45" font-weight="bold" fill="#1a1a1a" stroke="#1a1a1a" stroke-width="0.08" transform="rotate(-29 296.98 280.37)">hydroxypropanesulfonic acid</text>
<text x="239.60" y="297.26" font-size="4.45" fill="#1a1a1a" stroke="#1a1a1a" stroke-width="0.08" text-anchor="end" font-weight="bold" font-style="normal" >L-dihydroorotate</text>
<text x="305.61" y="289.00" font-size="4.45" font-weight="bold" fill="#1a1a1a" stroke="#1a1a1a" stroke-width="0.08" transform="rotate(-29 305.61 289.00)">L-dihydroorotate</text>
<text x="239.60" y="305.89" font-size="4.45" fill="#1a1a1a" stroke="#1a1a1a" stroke-width="0.08" text-anchor="end" font-weight="bold" font-style="normal" >Pseudouridine</text>
<text x="314.24" y="297.62" font-size="4.45" font-weight="bold" fill="#1a1a1a" stroke="#1a1a1a" stroke-width="0.08" transform="rotate(-29 314.24 297.62)">Pseudouridine</text>
<text x="239.60" y="314.52" font-size="4.45" fill="#1a1a1a" stroke="#1a1a1a" stroke-width="0.08" text-anchor="end" font-weight="bold" font-style="normal" >Linolenic acid</text>
<text x="322.87" y="306.25" font-size="4.45" font-weight="bold" fill="#1a1a1a" stroke="#1a1a1a" stroke-width="0.08" transform="rotate(-29 322.87 306.25)">Linolenic acid</text>
<rect x="241.0" y="318.7" width="86.5" height="3.2" fill="url(#gC)"/>
<text x="242.80" y="326.90" font-size="3.6" fill="#1a1a1a" stroke="#1a1a1a" stroke-width="0.08" text-anchor="middle" font-weight="bold" font-style="normal" >−1.0</text>
<text x="262.62" y="326.90" font-size="3.6" fill="#1a1a1a" stroke="#1a1a1a" stroke-width="0.08" text-anchor="middle" font-weight="bold" font-style="normal" >−0.5</text>
<text x="284.25" y="326.90" font-size="3.6" fill="#1a1a1a" stroke="#1a1a1a" stroke-width="0.08" text-anchor="middle" font-weight="bold" font-style="normal" >0.0</text>
<text x="305.88" y="326.90" font-size="3.6" fill="#1a1a1a" stroke="#1a1a1a" stroke-width="0.08" text-anchor="middle" font-weight="bold" font-style="normal" >0.5</text>
<text x="327.50" y="326.90" font-size="3.6" fill="#1a1a1a" stroke="#1a1a1a" stroke-width="0.08" text-anchor="middle" font-weight="bold" font-style="normal" >1.0</text>
<text x="8.60" y="336.50" font-size="8.2" fill="#222" text-anchor="start" font-weight="normal" font-style="normal" stroke="#222" stroke-width="0.25">D</text>
<line x1="71.6" y1="336.30" x2="316.60" y2="336.30" stroke="#c6c6c6" stroke-width="0.55"/>
<line x1="71.6" y1="360.80" x2="316.60" y2="360.80" stroke="#c6c6c6" stroke-width="0.55"/>
<line x1="71.6" y1="385.30" x2="316.60" y2="385.30" stroke="#c6c6c6" stroke-width="0.55"/>
<line x1="71.6" y1="409.80" x2="316.60" y2="409.80" stroke="#c6c6c6" stroke-width="0.55"/>
<line x1="71.6" y1="434.30" x2="316.60" y2="434.30" stroke="#c6c6c6" stroke-width="0.55"/>
<line x1="71.6" y1="458.80" x2="316.60" y2="458.80" stroke="#c6c6c6" stroke-width="0.55"/>
<line x1="71.6" y1="483.30" x2="316.60" y2="483.30" stroke="#c6c6c6" stroke-width="0.55"/>
<line x1="71.60" y1="336.3" x2="71.60" y2="483.30" stroke="#c6c6c6" stroke-width="0.55"/>
<line x1="96.10" y1="336.3" x2="96.10" y2="483.30" stroke="#c6c6c6" stroke-width="0.55"/>
<line x1="120.60" y1="336.3" x2="120.60" y2="483.30" stroke="#c6c6c6" stroke-width="0.55"/>
<line x1="145.10" y1="336.3" x2="145.10" y2="483.30" stroke="#c6c6c6" stroke-width="0.55"/>
<line x1="169.60" y1="336.3" x2="169.60" y2="483.30" stroke="#c6c6c6" stroke-width="0.55"/>
<line x1="194.10" y1="336.3" x2="194.10" y2="483.30" stroke="#c6c6c6" stroke-width="0.55"/>
<line x1="218.60" y1="336.3" x2="218.60" y2="483.30" stroke="#c6c6c6" stroke-width="0.55"/>
<line x1="243.10" y1="336.3" x2="243.10" y2="483.30" stroke="#c6c6c6" stroke-width="0.55"/>
<line x1="267.60" y1="336.3" x2="267.60" y2="483.30" stroke="#c6c6c6" stroke-width="0.55"/>
<line x1="292.10" y1="336.3" x2="292.10" y2="483.30" stroke="#c6c6c6" stroke-width="0.55"/>
<line x1="316.60" y1="336.3" x2="316.60" y2="483.30" stroke="#c6c6c6" stroke-width="0.55"/>
<circle cx="83.85" cy="348.55" r="9.20" fill="#4c4cff"/>
<text x="83.85" y="357.05" font-size="16" fill="#111" text-anchor="middle" font-weight="normal" font-style="normal" >*</text>
<circle cx="108.35" cy="348.55" r="9.84" fill="#3232ff"/>
<text x="108.35" y="357.05" font-size="16" fill="#111" text-anchor="middle" font-weight="normal" font-style="normal" >*</text>
<circle cx="132.85" cy="348.55" r="8.16" fill="#ff7272"/>
<circle cx="157.35" cy="348.55" r="10.72" fill="#ff0c0c"/>
<text x="157.35" y="357.05" font-size="16" fill="#111" text-anchor="middle" font-weight="normal" font-style="normal" >**</text>
<circle cx="181.85" cy="348.55" r="10.72" fill="#ff0c0c"/>
<text x="181.85" y="357.05" font-size="16" fill="#111" text-anchor="middle" font-weight="normal" font-style="normal" >**</text>
<circle cx="206.35" cy="348.55" r="8.87" fill="#ff5959"/>
<circle cx="230.85" cy="348.55" r="10.72" fill="#0c0cff"/>
<text x="230.85" y="357.05" font-size="16" fill="#111" text-anchor="middle" font-weight="normal" font-style="normal" >**</text>
<circle cx="255.35" cy="348.55" r="10.72" fill="#0c0cff"/>
<text x="255.35" y="357.05" font-size="16" fill="#111" text-anchor="middle" font-weight="normal" font-style="normal" >**</text>
<circle cx="279.85" cy="348.55" r="9.33" fill="#4747ff"/>
<text x="279.85" y="357.05" font-size="16" fill="#111" text-anchor="middle" font-weight="normal" font-style="normal" >*</text>
<circle cx="304.35" cy="348.55" r="9.84" fill="#3232ff"/>
<text x="304.35" y="357.05" font-size="16" fill="#111" text-anchor="middle" font-weight="normal" font-style="normal" >*</text>
<circle cx="83.85" cy="373.05" r="10.14" fill="#2626ff"/>
<text x="83.85" y="381.55" font-size="16" fill="#111" text-anchor="middle" font-weight="normal" font-style="normal" >*</text>
<circle cx="108.35" cy="373.05" r="10.14" fill="#2626ff"/>
<text x="108.35" y="381.55" font-size="16" fill="#111" text-anchor="middle" font-weight="normal" font-style="normal" >*</text>
<circle cx="132.85" cy="373.05" r="8.16" fill="#ff7272"/>
<circle cx="157.35" cy="373.05" r="9.84" fill="#ff3232"/>
<text x="157.35" y="381.55" font-size="16" fill="#111" text-anchor="middle" font-weight="normal" font-style="normal" >*</text>
<circle cx="181.85" cy="373.05" r="9.84" fill="#ff3232"/>
<text x="181.85" y="381.55" font-size="16" fill="#111" text-anchor="middle" font-weight="normal" font-style="normal" >**</text>
<circle cx="206.35" cy="373.05" r="8.87" fill="#ff5959"/>
<circle cx="230.85" cy="373.05" r="10.14" fill="#2626ff"/>
<text x="230.85" y="381.55" font-size="16" fill="#111" text-anchor="middle" font-weight="normal" font-style="normal" >*</text>
<circle cx="255.35" cy="373.05" r="8.87" fill="#5959ff"/>
<circle cx="279.85" cy="373.05" r="8.87" fill="#5959ff"/>
<circle cx="304.35" cy="373.05" r="6.96" fill="#9999ff"/>
<circle cx="83.85" cy="397.55" r="10.83" fill="#0707ff"/>
<text x="83.85" y="406.05" font-size="16" fill="#111" text-anchor="middle" font-weight="normal" font-style="normal" >**</text>
<circle cx="108.35" cy="397.55" r="10.83" fill="#0707ff"/>
<text x="108.35" y="406.05" font-size="16" fill="#111" text-anchor="middle" font-weight="normal" font-style="normal" >**</text>
<circle cx="132.85" cy="397.55" r="8.16" fill="#ff7272"/>
<circle cx="157.35" cy="397.55" r="9.84" fill="#ff3232"/>
<text x="157.35" y="406.05" font-size="16" fill="#111" text-anchor="middle" font-weight="normal" font-style="normal" >*</text>
<circle cx="181.85" cy="397.55" r="9.53" fill="#ff3f3f"/>
<text x="181.85" y="406.05" font-size="16" fill="#111" text-anchor="middle" font-weight="normal" font-style="normal" >*</text>
<circle cx="206.35" cy="397.55" r="9.20" fill="#ff4c4c"/>
<circle cx="230.85" cy="397.55" r="9.33" fill="#4747ff"/>
<circle cx="255.35" cy="397.55" r="8.52" fill="#6666ff"/>
<circle cx="279.85" cy="397.55" r="8.52" fill="#6666ff"/>
<circle cx="304.35" cy="397.55" r="6.78" fill="#9e9eff"/>
<circle cx="83.85" cy="422.05" r="4.26" fill="#ffd8d8"/>
<circle cx="132.85" cy="422.05" r="9.20" fill="#4c4cff"/>
<text x="132.85" y="430.55" font-size="16" fill="#111" text-anchor="middle" font-weight="normal" font-style="normal" >*</text>
<circle cx="157.35" cy="422.05" r="3.48" fill="#e5e5ff"/>
<circle cx="206.35" cy="422.05" r="3.11" fill="#eaeaff"/>
<circle cx="230.85" cy="422.05" r="2.69" fill="#ffefef"/>
<circle cx="255.35" cy="422.05" r="3.11" fill="#eaeaff"/>
<circle cx="279.85" cy="422.05" r="5.72" fill="#ffbaba"/>
<circle cx="304.35" cy="422.05" r="3.11" fill="#eaeaff"/>
<circle cx="83.85" cy="446.55" r="8.52" fill="#ff6666"/>
<circle cx="108.35" cy="446.55" r="8.52" fill="#ff6666"/>
<circle cx="132.85" cy="446.55" r="10.44" fill="#1919ff"/>
<text x="132.85" y="455.05" font-size="16" fill="#111" text-anchor="middle" font-weight="normal" font-style="normal" >**</text>
<circle cx="157.35" cy="446.55" r="8.87" fill="#5959ff"/>
<circle cx="181.85" cy="446.55" r="7.78" fill="#7f7fff"/>
<circle cx="206.35" cy="446.55" r="9.53" fill="#3f3fff"/>
<text x="206.35" y="455.05" font-size="16" fill="#111" text-anchor="middle" font-weight="normal" font-style="normal" >*</text>
<circle cx="230.85" cy="446.55" r="8.87" fill="#ff5959"/>
<circle cx="255.35" cy="446.55" r="8.87" fill="#ff5959"/>
<circle cx="279.85" cy="446.55" r="9.53" fill="#ff3f3f"/>
<text x="279.85" y="455.05" font-size="16" fill="#111" text-anchor="middle" font-weight="normal" font-style="normal" >*</text>
<circle cx="304.35" cy="446.55" r="8.16" fill="#ff7272"/>
<circle cx="83.85" cy="471.05" r="3.81" fill="#ffe0e0"/>
<circle cx="108.35" cy="471.05" r="2.46" fill="#f2f2ff"/>
<circle cx="132.85" cy="471.05" r="10.44" fill="#1919ff"/>
<text x="132.85" y="479.55" font-size="16" fill="#111" text-anchor="middle" font-weight="normal" font-style="normal" >**</text>
<circle cx="157.35" cy="471.05" r="4.92" fill="#ccccff"/>
<circle cx="181.85" cy="471.05" r="4.26" fill="#d8d8ff"/>
<circle cx="206.35" cy="471.05" r="6.02" fill="#b2b2ff"/>
<circle cx="230.85" cy="471.05" r="6.02" fill="#ffb2b2"/>
<circle cx="255.35" cy="471.05" r="3.48" fill="#ffe5e5"/>
<circle cx="279.85" cy="471.05" r="6.96" fill="#ff9999"/>
<circle cx="304.35" cy="471.05" r="5.50" fill="#ffbfbf"/>
<text x="67.80" y="350.45" font-size="5.4" fill="#1a1a1a" stroke="#1a1a1a" stroke-width="0.08" text-anchor="end" font-weight="bold" font-style="italic" style="stroke-width:0.3px">Oscillospira</text>
<text x="67.80" y="374.95" font-size="5.4" fill="#1a1a1a" stroke="#1a1a1a" stroke-width="0.08" text-anchor="end" font-weight="bold" font-style="italic" style="stroke-width:0.3px">Paraprevotella</text>
<text x="67.80" y="399.45" font-size="5.4" fill="#1a1a1a" stroke="#1a1a1a" stroke-width="0.08" text-anchor="end" font-weight="bold" font-style="italic" style="stroke-width:0.3px">Akkermansia</text>
<text x="67.80" y="423.95" font-size="5.4" fill="#1a1a1a" stroke="#1a1a1a" stroke-width="0.08" text-anchor="end" font-weight="bold" font-style="italic" style="stroke-width:0.3px">Bifidobacterium</text>
<text x="67.80" y="448.45" font-size="5.4" fill="#1a1a1a" stroke="#1a1a1a" stroke-width="0.08" text-anchor="end" font-weight="bold" font-style="italic" style="stroke-width:0.3px">Phascolarctobacterium</text>
<text x="67.80" y="472.95" font-size="5.4" fill="#1a1a1a" stroke="#1a1a1a" stroke-width="0.08" text-anchor="end" font-weight="bold" font-style="italic" style="stroke-width:0.3px">Turicibacter</text>
<rect x="320.7" y="336.2" width="12.4" height="147.1" fill="url(#gD)" stroke="#333" stroke-width="0.35"/>
<line x1="333.1" y1="336.40" x2="335.5" y2="336.40" stroke="#333" stroke-width="0.45"/>
<text x="347.90" y="338.76" font-size="5.2" fill="#1a1a1a" stroke="#1a1a1a" stroke-width="0.08" text-anchor="middle" font-weight="bold" font-style="normal" >0.98</text>
<line x1="333.1" y1="351.09" x2="335.5" y2="351.09" stroke="#333" stroke-width="0.45"/>
<text x="347.90" y="353.45" font-size="5.2" fill="#1a1a1a" stroke="#1a1a1a" stroke-width="0.08" text-anchor="middle" font-weight="bold" font-style="normal" >0.79</text>
<line x1="333.1" y1="365.78" x2="335.5" y2="365.78" stroke="#333" stroke-width="0.45"/>
<text x="347.90" y="368.14" font-size="5.2" fill="#1a1a1a" stroke="#1a1a1a" stroke-width="0.08" text-anchor="middle" font-weight="bold" font-style="normal" >0.60</text>
<line x1="333.1" y1="380.47" x2="335.5" y2="380.47" stroke="#333" stroke-width="0.45"/>
<text x="347.90" y="382.83" font-size="5.2" fill="#1a1a1a" stroke="#1a1a1a" stroke-width="0.08" text-anchor="middle" font-weight="bold" font-style="normal" >0.40</text>
<line x1="333.1" y1="395.16" x2="335.5" y2="395.16" stroke="#333" stroke-width="0.45"/>
<text x="347.90" y="397.52" font-size="5.2" fill="#1a1a1a" stroke="#1a1a1a" stroke-width="0.08" text-anchor="middle" font-weight="bold" font-style="normal" >0.21</text>
<line x1="333.1" y1="409.85" x2="335.5" y2="409.85" stroke="#333" stroke-width="0.45"/>
<text x="347.90" y="412.21" font-size="5.2" fill="#1a1a1a" stroke="#1a1a1a" stroke-width="0.08" text-anchor="middle" font-weight="bold" font-style="normal" >0.02</text>
<line x1="333.1" y1="424.54" x2="335.5" y2="424.54" stroke="#333" stroke-width="0.45"/>
<text x="347.90" y="426.90" font-size="5.2" fill="#1a1a1a" stroke="#1a1a1a" stroke-width="0.08" text-anchor="middle" font-weight="bold" font-style="normal" >−0.17</text>
<line x1="333.1" y1="439.23" x2="335.5" y2="439.23" stroke="#333" stroke-width="0.45"/>
<text x="347.90" y="441.59" font-size="5.2" fill="#1a1a1a" stroke="#1a1a1a" stroke-width="0.08" text-anchor="middle" font-weight="bold" font-style="normal" >−0.36</text>
<line x1="333.1" y1="453.92" x2="335.5" y2="453.92" stroke="#333" stroke-width="0.45"/>
<text x="347.90" y="456.28" font-size="5.2" fill="#1a1a1a" stroke="#1a1a1a" stroke-width="0.08" text-anchor="middle" font-weight="bold" font-style="normal" >−0.56</text>
<line x1="333.1" y1="468.61" x2="335.5" y2="468.61" stroke="#333" stroke-width="0.45"/>
<text x="347.90" y="470.97" font-size="5.2" fill="#1a1a1a" stroke="#1a1a1a" stroke-width="0.08" text-anchor="middle" font-weight="bold" font-style="normal" >−0.75</text>
<line x1="333.1" y1="483.30" x2="335.5" y2="483.30" stroke="#333" stroke-width="0.45"/>
<text x="347.90" y="485.66" font-size="5.2" fill="#1a1a1a" stroke="#1a1a1a" stroke-width="0.08" text-anchor="middle" font-weight="bold" font-style="normal" >−0.94</text>
<text x="85.05" y="489.00" font-size="5.32" font-weight="bold" fill="#1a1a1a" stroke="#1a1a1a" stroke-width="0.08" text-anchor="end" transform="rotate(-42 85.05 491.90)">14-hydroxy-4z,7z,10z,12e,16z,</text>
<text x="85.05" y="494.80" font-size="5.32" font-weight="bold" fill="#1a1a1a" stroke="#1a1a1a" stroke-width="0.08" text-anchor="end" transform="rotate(-42 85.05 491.90)">19z-docosahexaenoic acid</text>
<text x="109.55" y="489.00" font-size="5.32" font-weight="bold" fill="#1a1a1a" stroke="#1a1a1a" stroke-width="0.08" text-anchor="end" transform="rotate(-42 109.55 491.90)">8-hydroxy-5z,8e,11z,14z,17z-</text>
<text x="109.55" y="494.80" font-size="5.32" font-weight="bold" fill="#1a1a1a" stroke="#1a1a1a" stroke-width="0.08" text-anchor="end" transform="rotate(-42 109.55 491.90)">eicosapentaenoic acid</text>
<text x="136.35" y="490.00" font-size="5.32" font-weight="bold" fill="#1a1a1a" stroke="#1a1a1a" stroke-width="0.08" text-anchor="end" transform="rotate(-42 136.35 490.00)">2-dhahma [dmed-fahfa]</text>
<text x="160.85" y="490.00" font-size="5.32" font-weight="bold" fill="#1a1a1a" stroke="#1a1a1a" stroke-width="0.08" text-anchor="end" transform="rotate(-42 160.85 490.00)">N-acetyl-l-methionine</text>
<text x="183.05" y="489.00" font-size="5.32" font-weight="bold" fill="#1a1a1a" stroke="#1a1a1a" stroke-width="0.08" text-anchor="end" transform="rotate(-42 183.05 491.90)">2-oleoyl-1-stearoyl-sn-glycero-</text>
<text x="183.05" y="494.80" font-size="5.32" font-weight="bold" fill="#1a1a1a" stroke="#1a1a1a" stroke-width="0.08" text-anchor="end" transform="rotate(-42 183.05 491.90)">3-phosphoserine</text>
<text x="207.55" y="489.00" font-size="5.32" font-weight="bold" fill="#1a1a1a" stroke="#1a1a1a" stroke-width="0.08" text-anchor="end" transform="rotate(-42 207.55 491.90)">N-palmitoyl-d-erythro-</text>
<text x="207.55" y="494.80" font-size="5.32" font-weight="bold" fill="#1a1a1a" stroke="#1a1a1a" stroke-width="0.08" text-anchor="end" transform="rotate(-42 207.55 491.90)">dihydroceramide-1-phosphate</text>
<text x="234.35" y="490.00" font-size="5.32" font-weight="bold" fill="#1a1a1a" stroke="#1a1a1a" stroke-width="0.08" text-anchor="end" transform="rotate(-42 234.35 490.00)">L-dihydroorotate</text>
<text x="256.55" y="489.00" font-size="5.32" font-weight="bold" fill="#1a1a1a" stroke="#1a1a1a" stroke-width="0.08" text-anchor="end" transform="rotate(-42 256.55 491.90)">3-amino-2-(4-chlorophenyl)-2-</text>
<text x="256.55" y="494.80" font-size="5.32" font-weight="bold" fill="#1a1a1a" stroke="#1a1a1a" stroke-width="0.08" text-anchor="end" transform="rotate(-42 256.55 491.90)">hydroxypropanesulfonic acid</text>
<text x="283.35" y="490.00" font-size="5.32" font-weight="bold" fill="#1a1a1a" stroke="#1a1a1a" stroke-width="0.08" text-anchor="end" transform="rotate(-42 283.35 490.00)">Pseudouridine</text>
<text x="307.85" y="490.00" font-size="5.32" font-weight="bold" fill="#1a1a1a" stroke="#1a1a1a" stroke-width="0.08" text-anchor="end" transform="rotate(-42 307.85 490.00)">Linolenic acid</text>
</svg>
</body></html>
